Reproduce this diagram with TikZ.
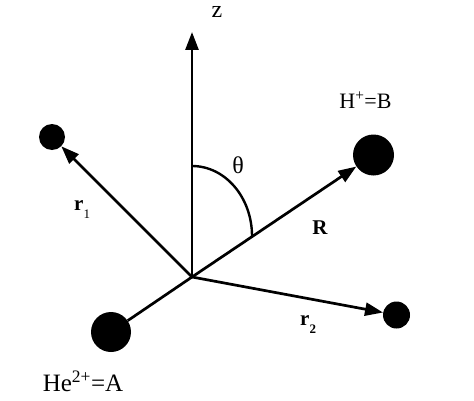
\documentclass[tikz,border=0pt]{standalone}
\usepackage{fontspec}
\setmainfont{Liberation Serif}
\usetikzlibrary{arrows.meta}
\tikzset{
  atom/.style={circle, fill=black, inner sep=0pt, minimum size=#1},
  vec/.style={line width=2.7pt, -{Triangle[length=18pt,width=13pt]}},
  bond/.style={line width=2.7pt},
  lbl/.style={inner sep=0pt, font=\fontsize{22}{22}\selectfont},
}
\begin{document}
\begin{tikzpicture}[x=1pt,y=1pt]
\useasboundingbox (0,0) rectangle (474,400);
\coordinate (O) at (192,123);
\coordinate (ztip) at (192,368);
\coordinate (arcstart) at (192,234);
\node[atom=26pt] (a1) at (52,263) {};
\node[atom=41pt] (b) at (373.5,245) {};
\node[atom=40pt] (a) at (111,68) {};
\node[atom=27pt] (a2) at (396.5,85) {};
% axes and vectors
\draw[vec] (O) -- (ztip);
\draw[vec] (O) -- (a1);
\draw[vec] (O) -- (b);
\draw[vec] (O) -- (a2);
\draw[bond] (O) -- (a);
% angle arc
\draw[line width=2.4pt] (arcstart) arc[start angle=90, end angle=0, x radius=60, y radius=70];
% labels
\node[lbl, font=\fontsize{24}{24}\selectfont] (zl) at (217,388) {z};
\node[lbl] (bl) at (365.5,300) {H\textsuperscript{+}=B};
\node[lbl, font=\fontsize{24}{24}\selectfont] (th) at (238,235) {θ};
\node[lbl, font=\fontsize{21}{21}\selectfont\bfseries] (Rl) at (320,172) {R};
\node[lbl, anchor=base west, font=\fontsize{21}{21}\selectfont] (r1) at (74,190) {\textbf{r}\raisebox{-8pt}{\fontsize{13}{13}\selectfont 1}};
\node[lbl, anchor=base west, font=\fontsize{21}{21}\selectfont] (r2) at (300,75) {\textbf{r}\raisebox{-8pt}{\fontsize{13}{13}\selectfont\bfseries 2}};
\node[lbl, font=\fontsize{25}{25}\selectfont] (al) at (83,19) {He\textsuperscript{2+}=A};
\end{tikzpicture}
\end{document}
